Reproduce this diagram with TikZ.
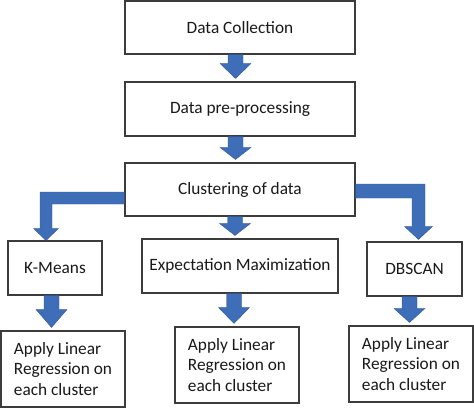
\documentclass[tikz,border=0pt]{standalone}
\usepackage{fontspec}
\setmainfont{Carlito}
\usetikzlibrary{calc}
\definecolor{boxline}{HTML}{3C3C3C}
\definecolor{arrowfill}{HTML}{3F6EB8}
\definecolor{arrowline}{HTML}{2F5597}
\tikzset{
  procbox/.style={draw=boxline, line width=1.1pt, fill=white, inner sep=0pt,
    font=\fontsize{17.3}{20.5}\selectfont, text=black!90},
  blockarrow/.style={fill=arrowfill, draw=arrowline, line width=0.4pt, line join=miter},
}
% straight block arrow: #1 = x of the shaft axis, #2 = start anchor, #3 = end anchor,
% #4 = head length; the tip stops 3pt short of the end anchor
\newcommand\blockdown[4]{%
  \path[blockarrow] let \p1=(#2), \p2=(#3) in
    (#1-7.5pt,\y1) -- (#1+7.5pt,\y1) -- (#1+7.5pt,\y2+3pt+#4) --
    (#1+15.5pt,\y2+3pt+#4) -- (#1,\y2+3pt) -- (#1-15.5pt,\y2+3pt+#4) --
    (#1-7.5pt,\y2+3pt+#4) -- cycle;}
\begin{document}
\begin{tikzpicture}[x=1pt,y=-1pt]
\useasboundingbox (0,0) rectangle (474,408);

% process steps
\node[procbox, minimum width=230, minimum height=53] (collect) at (240,27.5) {Data Collection};
\node[procbox, minimum width=230, minimum height=54] (prep) at (240,109) {Data pre-processing};
\node[procbox, minimum width=230, minimum height=53] (clust) at (240,189.5) {Clustering of data};

% clustering algorithms
\node[procbox, minimum width=94, minimum height=54] (km) at (55,268) {K-Means};
\node[procbox, minimum width=196, minimum height=54] (em) at (240,266) {Expectation Maximization};
\node[procbox, minimum width=95, minimum height=54] (db) at (414.5,269) {DBSCAN};

% regression per cluster
\node[procbox, minimum width=124, minimum height=76, align=left] (reg1) at (63,369)
  {Apply Linear\\Regression on\\each cluster};
\node[procbox, minimum width=124, minimum height=76, align=left] (reg2) at (237,365)
  {Apply Linear\\Regression on\\each cluster};
\node[procbox, minimum width=124, minimum height=76, align=left] (reg3) at (411,364)
  {Apply Linear\\Regression on\\each cluster};

% straight arrows
\blockdown{235.5pt}{collect.south}{prep.north}{15pt}
\blockdown{235.5pt}{prep.south}{clust.north}{12pt}
\blockdown{235pt}{clust.south}{em.north}{12pt}
\blockdown{51.5pt}{km.south}{reg1.north}{18pt}
\blockdown{234pt}{em.south}{reg2.north}{16pt}
\blockdown{409.5pt}{db.south}{reg3.north}{14pt}

% elbow arrow to K-Means
\path[blockarrow] let \p1=(clust.west), \p2=(km.north) in
  (\x1,\y1-2.5pt) -- (40pt,\y1-2.5pt) -- (40pt,\y2+12pt) -- (33.5pt,\y2+12pt) --
  (46pt,\y2) -- (58.5pt,\y2+12pt) -- (52pt,\y2+12pt) -- (52pt,\y1-14.5pt) --
  (\x1,\y1-14.5pt) -- cycle;

% elbow arrow to DBSCAN
\path[blockarrow] let \p1=(clust.east), \p2=(db.north) in
  (\x1,\y1+5.5pt) -- (425pt,\y1+5.5pt) -- (425pt,\y2+15pt) -- (432.5pt,\y2+15pt) --
  (418.5pt,\y2+2pt) -- (404.5pt,\y2+15pt) -- (412pt,\y2+15pt) -- (412pt,\y1-8.5pt) --
  (\x1,\y1-8.5pt) -- cycle;
\end{tikzpicture}
\end{document}
